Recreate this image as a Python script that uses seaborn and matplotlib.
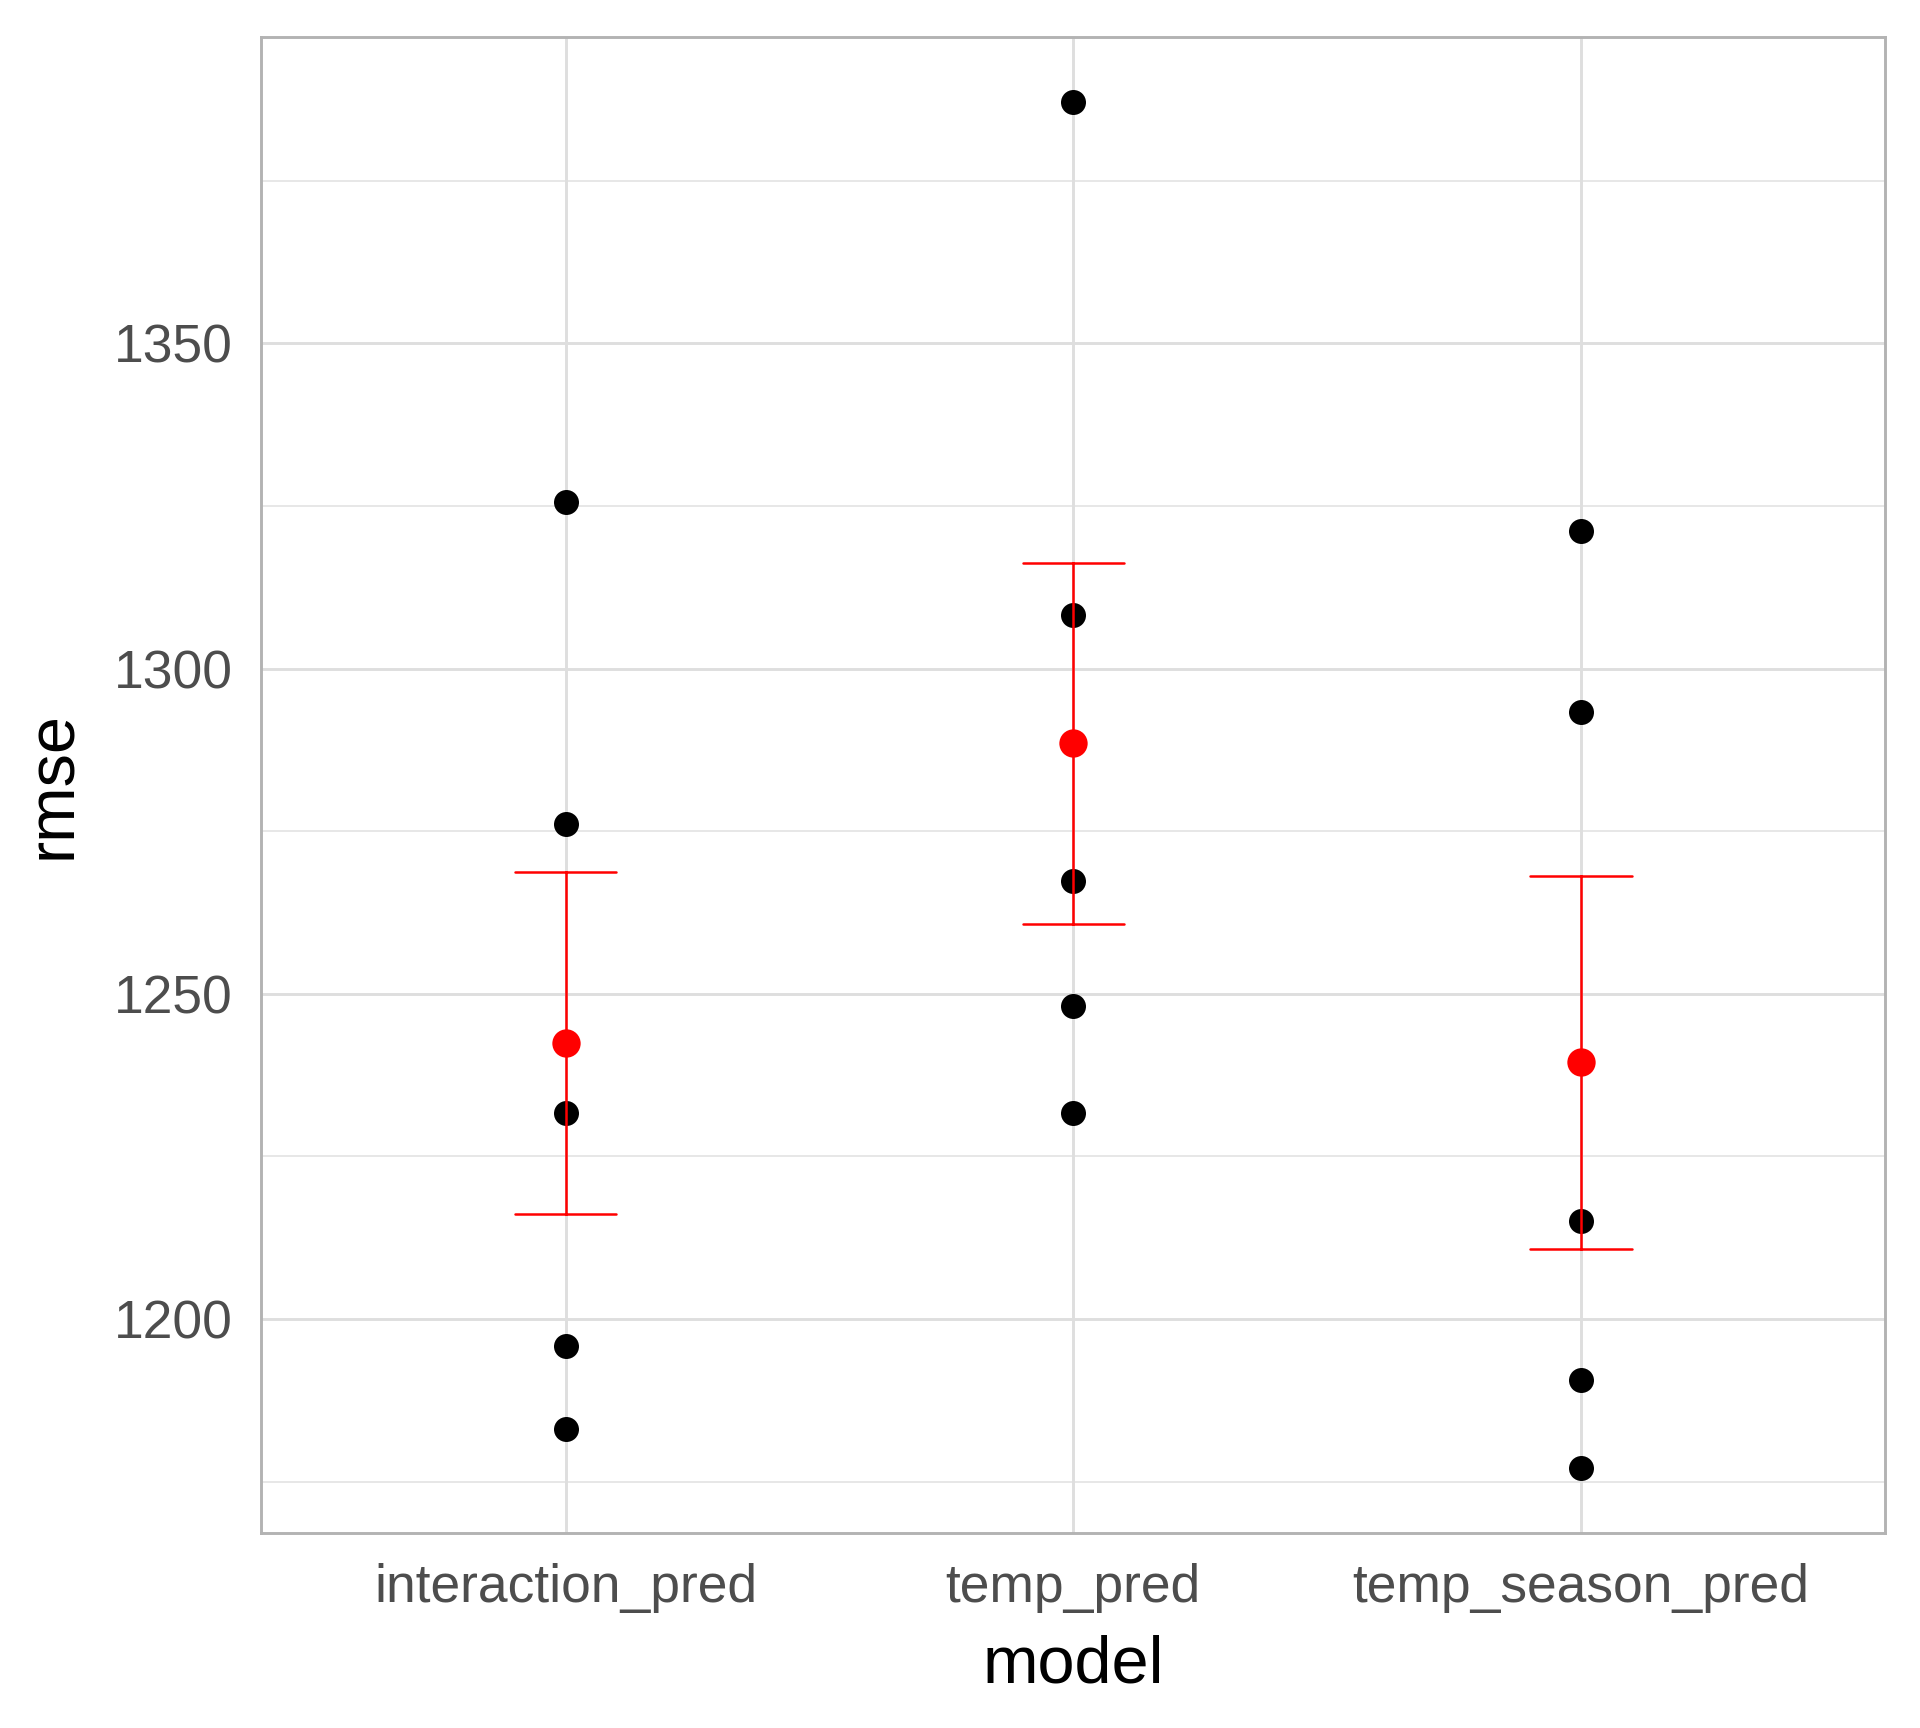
import pandas as pd
import matplotlib.pyplot as plt
import seaborn as sns

# rmse per fold for each model
models = ['interaction_pred', 'temp_pred', 'temp_season_pred']
interaction_rmse = [1325.6, 1276.1, 1231.7, 1195.9, 1183.1]
temp_rmse = [1387.1, 1308.3, 1267.4, 1248.1, 1231.7]
temp_season_rmse = [1321.1, 1293.4, 1215.1, 1190.7, 1177.1]

df = pd.DataFrame({
    'model': [models[0]] * 5 + [models[1]] * 5 + [models[2]] * 5,
    'rmse': interaction_rmse + temp_rmse + temp_season_rmse,
})

sns.set_style('white')
plt.rcParams['font.family'] = ['Liberation Sans', 'DejaVu Sans']

fig = plt.figure(figsize=(6.4, 5.76), dpi=300)
ax = fig.add_axes([0.136, 0.1128, 0.846, 0.8658])

# grid
for v in [1200, 1250, 1300, 1350]:
    ax.axhline(v, color='#DEDEDE', lw=0.7, zorder=0)
for v in [1175, 1225, 1275, 1325, 1375]:
    ax.axhline(v, color='#E6E6E6', lw=0.45, zorder=0)
for v in range(3):
    ax.axvline(v, color='#DEDEDE', lw=0.7, zorder=0)

sns.stripplot(data=df, x='model', y='rmse', order=models, jitter=False,
              color='black', size=6, linewidth=0, ax=ax, zorder=3)
sns.pointplot(data=df, x='model', y='rmse', order=models, errorbar='se',
              color='red', linestyle='none', capsize=0.2, markersize=6.8,
              markeredgewidth=0, err_kws={'linewidth': 0.6}, ax=ax, zorder=4)

ax.set_xlim(-0.6, 2.6)
ax.set_ylim(1167.1, 1397.1)
ax.set_yticks([1200, 1250, 1300, 1350])

for s in ax.spines.values():
    s.set_visible(True)
    s.set_color('#B3B3B3')
    s.set_linewidth(0.7)

ax.tick_params(axis='both', length=2.75, width=0.7, color='#B3B3B3',
               labelsize=12.8, labelcolor='#4D4D4D')
ax.tick_params(axis='x', pad=4.5)
ax.tick_params(axis='y', pad=4)
ax.set_xlabel('model', fontsize=16, labelpad=5, color='black')
ax.set_ylabel('rmse', fontsize=16, labelpad=7, color='black')

fig.savefig('out.png', dpi=300)
